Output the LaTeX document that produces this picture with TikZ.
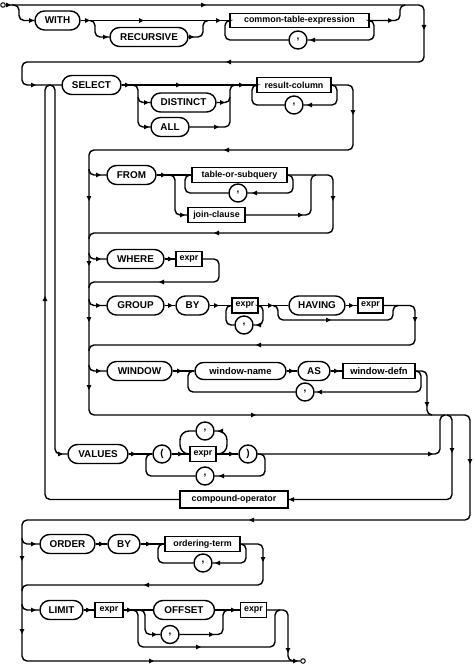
\documentclass[tikz,border=0pt]{standalone}
\usepackage{fontspec}
\setmainfont{Liberation Sans}
\usetikzlibrary{shapes.misc}
\begin{document}
\begin{tikzpicture}[x=1pt,y=-1pt,line width=1.4pt,
  kw/.style={draw, rounded rectangle, minimum height=19pt, inner sep=0pt, font=\fontsize{9.9}{12}\selectfont\bfseries},
  nt/.style={draw, rectangle, minimum height=15pt, inner sep=0pt, font=\fontsize{8.9}{10}\selectfont\bfseries},
  ntr/.style={draw, rounded rectangle, minimum height=17pt, inner sep=0pt, font=\fontsize{9.4}{10}\selectfont\bfseries},
  commac/.style={draw, circle, minimum size=18pt, inner sep=0pt, font=\fontsize{10}{12}\selectfont\bfseries},
  termc/.style={draw, circle, minimum size=4.5pt, inner sep=0pt, line width=1pt},
  conn/.style={rounded corners=5pt},
  atip/.pic={\fill (1,0) -- (-4,2.4) -- (-4,-2.4) -- cycle;},
  aR/.style={}, aL/.style={rotate=180}, aD/.style={rotate=-90}, aU/.style={rotate=90}
]
\useasboundingbox (0,0) rectangle (474,669);

% ---------- nodes ----------
\node[termc] (start) at (3,5) {};
\node[kw, minimum width=45pt] (with) at (57.5,20.5) {WITH};
\node[kw, minimum width=78pt] (rec) at (149,37) {RECURSIVE};
\node[nt, minimum width=139pt, minimum height=14pt] (cte) at (299.5,20.5) {common-table-expression};
\node[commac] (c1) at (298,40) {,};

\node[kw, minimum width=59pt] (select) at (91.5,85) {SELECT};
\node[kw, minimum width=65pt] (distinct) at (183.5,102.5) {DISTINCT};
\node[kw, minimum width=38pt] (all) at (170,127) {ALL};
\node[nt, minimum width=74pt] (rescol) at (294,85) {result-column};
\node[commac] (c2) at (294,105) {,};

\node[kw, minimum width=49pt] (from) at (131.5,175) {FROM};
\node[nt, minimum width=95pt] (tos) at (239.5,175) {table-or-subquery};
\node[commac] (c3) at (238,193) {,};
\node[nt, minimum width=57pt] (join) at (216.5,215) {join-clause};

\node[kw, minimum width=57pt] (where) at (135.5,259) {WHERE};
\node[nt, minimum width=26pt] (e1) at (189,259) {expr};

\node[kw, minimum width=57pt] (group) at (135.5,305.5) {GROUP};
\node[kw, minimum width=33pt] (by1) at (192.5,305.5) {BY};
\node[nt, minimum width=26pt] (e2) at (245,305.5) {expr};
\node[commac] (c4) at (244,325) {,};
\node[kw, minimum width=56pt] (having) at (317,305.5) {HAVING};
\node[nt, minimum width=25pt] (e3) at (370.5,305.5) {expr};

\node[kw, minimum width=65pt] (window) at (139.5,371) {WINDOW};
\node[ntr, minimum width=91pt] (wname) at (240.5,371) {window-name};
\node[kw, minimum width=32pt] (as) at (314,371) {AS};
\node[nt, minimum width=72pt, font=\fontsize{9.4}{10}\selectfont\bfseries] (wdefn) at (379,371) {window-defn};
\node[commac] (c5) at (305,392) {,};

\node[kw, minimum width=60pt] (values) at (98,454) {VALUES};
\node[commac] (lp) at (162,454) {(};
\node[nt, minimum width=26pt] (e4) at (203,454) {expr};
\node[commac] (rp) at (248,454) {)};
\node[commac] (c6) at (205,431) {,};
\node[commac] (c7) at (205,476) {,};
\node[nt, minimum width=108pt, minimum height=17pt] (cop) at (234,499.5) {compound-operator};

\node[kw, minimum width=55pt] (order) at (67.5,544) {ORDER};
\node[kw, minimum width=32pt] (by2) at (124,544) {BY};
\node[nt, minimum width=75pt] (oterm) at (202.5,544) {ordering-term};
\node[commac] (c8) at (203,563) {,};

\node[kw, minimum width=43pt] (limit) at (61.5,610) {LIMIT};
\node[nt, minimum width=28pt] (e5) at (109,610) {expr};
\node[kw, minimum width=61pt] (offset) at (184,610) {OFFSET};
\node[commac] (c9) at (170,634.5) {,};
\node[nt, minimum width=26pt] (e6) at (253.5,610) {expr};
\node[termc] (endc) at (303,661) {};

% ---------- connectors ----------
% WITH row
\draw[conn] (start.east) -- (424,5) -- (424,62) -- (22,62) -- (22,85) -- (select.west);
\draw[conn] (12,5) -- (19,5) -- (19,20.5) -- (with.west);
\draw (with.east) -- (cte.west);
\draw[conn] (90,20.5) -- (95,20.5) -- (95,37) -- (rec.west);
\draw[conn] (rec.east) -- (203,37) -- (203,20.5) -- (208,20.5);
\draw[conn] (cte.east) -- (374,20.5) -- (374,40) -- (c1.east);
\draw[conn] (c1.west) -- (225,40) -- (225,20.5) -- (cte.west);
\draw[conn] (cte.east) -- (400,20.5) -- (400,5) -- (405,5);

% SELECT row
\draw (select.east) -- (rescol.west);
\draw[conn] (132,85) -- (138,85) -- (138,127) -- (all.west);
\draw[conn] (138,97) -- (138,102.5) -- (distinct.west);
\draw[conn] (all.east) -- (230,127) -- (230,85) -- (235,85);
\draw[conn] (distinct.east) -- (230,102.5) -- (230,97);
\draw[conn] (rescol.east) -- (337,85) -- (337,105) -- (c2.east);
\draw[conn] (c2.west) -- (252,105) -- (252,85) -- (rescol.west);

% main spine
\draw[conn] (rescol.east) -- (353,85) -- (353,150) -- (89,150) -- (89,415) -- (470,415)
  -- (470,520) -- (22,520) -- (22,661) -- (endc.west);

% compound / values arches
\draw[conn] (50,85) -- (55,85) -- (55,454) -- (values.west);
\draw[conn] (cop.west) -- (45,499.5) -- (45,85) -- (50,85);

% FROM
\draw[conn] (89,169) -- (89,175) -- (from.west);
\draw (from.east) -- (tos.west);
\draw[conn] (170,175) -- (175,175) -- (175,215) -- (join.west);
\draw[conn] (tos.east) -- (293,175) -- (293,193) -- (c3.east);
\draw[conn] (c3.west) -- (185,193) -- (185,175) -- (tos.west);
\draw[conn] (join.east) -- (311,215) -- (311,175) -- (316,175);
\draw[conn] (tos.east) -- (333,175) -- (333,233) -- (89,233) -- (89,239);

% WHERE
\draw[conn] (89,253) -- (89,259) -- (where.west);
\draw (where.east) -- (e1.west);
\draw[conn] (e1.east) -- (219,259) -- (219,282) -- (89,282) -- (89,288);

% GROUP BY
\draw[conn] (89,299) -- (89,305.5) -- (group.west);
\draw (group.east) -- (by1.west);
\draw (by1.east) -- (e2.west);
\draw[conn] (e2.east) -- (263,305.5) -- (263,325) -- (c4.east);
\draw[conn] (c4.west) -- (226,325) -- (226,305.5) -- (e2.west);
\draw (e2.east) -- (having.west);
\draw[conn] (273,305.5) -- (278,305.5) -- (278,320) -- (393,320) -- (393,305.5) -- (398,305.5);
\draw (having.east) -- (e3.west);
\draw[conn] (e3.east) -- (415,305.5) -- (415,345) -- (89,345) -- (89,351);

% WINDOW
\draw[conn] (89,365) -- (89,371) -- (window.west);
\draw (window.east) -- (wname.west);
\draw (wname.east) -- (as.west);
\draw (as.east) -- (wdefn.west);
\draw[conn] (wdefn.east) -- (421,371) -- (421,392) -- (c5.east);
\draw[conn] (c5.west) -- (188,392) -- (188,371) -- (193,371);
\draw[conn] (wdefn.east) -- (427,371) -- (427,415) -- (432,415);

% VALUES
\draw (values.east) -- (lp.west);
\draw (lp.east) -- (e4.west);
\draw (e4.east) -- (rp.west);
\draw[rounded corners=9pt] (e4.east) -- (227,454) -- (227,431) -- (c6.east);
\draw[rounded corners=9pt] (c6.west) -- (180,431) -- (180,454) -- (e4.west);
\draw[conn] (rp.east) -- (265,454) -- (265,476) -- (c7.east);
\draw[conn] (c7.west) -- (146,476) -- (146,454) -- (lp.west);
\draw[conn] (rp.east) -- (440,454) -- (440,415) -- (445,415);
\draw[conn] (447,415) -- (452,415) -- (452,499.5) -- (cop.east);

% ORDER BY
\draw[conn] (22,538) -- (22,544) -- (order.west);
\draw (order.east) -- (by2.west);
\draw (by2.east) -- (oterm.west);
\draw[conn] (oterm.east) -- (246,544) -- (246,563) -- (c8.east);
\draw[conn] (c8.west) -- (158,563) -- (158,544) -- (oterm.west);
\draw[conn] (oterm.east) -- (263,544) -- (263,585) -- (22,585) -- (22,591);

% LIMIT
\draw[conn] (22,604) -- (22,610) -- (limit.west);
\draw (limit.east) -- (e5.west);
\draw (e5.east) -- (offset.west);
\draw[conn] (133,610) -- (138,610) -- (138,647) -- (275,647) -- (275,610) -- (280,610);
\draw[conn] (140,610) -- (145,610) -- (145,634.5) -- (c9.west);
\draw[conn] (c9.east) -- (223,634.5) -- (223,610) -- (228,610);
\draw (offset.east) -- (e6.west);
\draw[conn] (e6.east) -- (288,610) -- (288,661) -- (293,661);

% ---------- arrowheads ----------
\foreach \p in {(10,5),(205,5),(33,20.5),(89,20.5),(143,20.5),(107,37),(193,37),(220,20.5),(392,20.5),
  (35,85),(129,85),(180,85),(243,85),(148,102.5),(148,127),(224,102.5),(218,127),
  (100,175),(165,175),(184,215),(302,215),
  (100,259),(172,259),
  (100,305.5),(172,305.5),(218,305.5),(272,305.5),(330,320),(353,305.5),
  (100,371),(181,371),(293,371),(338,371),
  (255,415),(62,454),(135,454),(182,454),(233,454),(432,454),
  (35,544),(103,544),(150,544),
  (35,610),(90,610),(131,610),(156,634.5),(213,634.5),(200,647),(235,610),(153,661),(297,661)}
  \pic[aR] at \p {atip};
\foreach \p in {(311,40),(227,62),(308,105),(225,150),(253,193),(215,233),(160,282),(257,325),(257,345),
  (318,392),(290,499.5),(219,431),(220,476),(250,520),(216,563),(145,585)}
  \pic[aL] at \p {atip};
\foreach \p in {(424,29),(353,114),(89,200),(333,200),(89,265),(89,321),(415,321),(89,389),(427,406),
  (470,463),(452,452),(22,560),(263,561),(22,633),(288,652)}
  \pic[aD] at \p {atip};
\pic[aU] at (45,297) {atip};
\end{tikzpicture}
\end{document}
